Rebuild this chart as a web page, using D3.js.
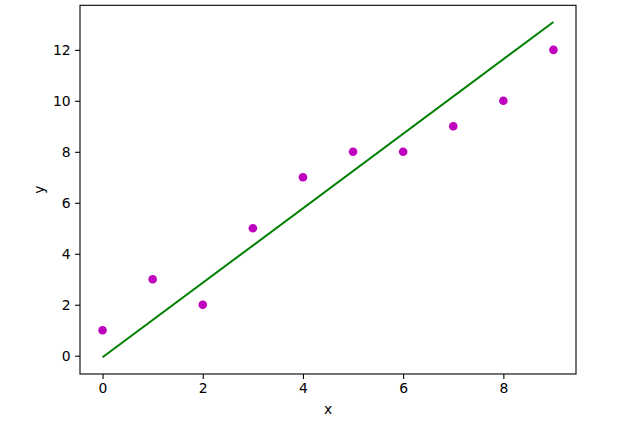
<!DOCTYPE html>
<html>
<head>
<meta charset="utf-8">
<script src="https://cdn.jsdelivr.net/npm/d3@7"></script>
<style>
  body { margin: 0; background: #fff; }
  text { font-family: "DejaVu Sans", sans-serif; }
</style>
</head>
<body>
<div id="chart"></div>
<script>
// scatter points
const xValues = [0, 1, 2, 3, 4, 5, 6, 7, 8, 9];
const yValues = [1, 3, 2, 5, 7, 8, 8, 9, 10, 12];
// fitted line end points
const lineX = [0, 9];
const lineY = [-0.06, 13.09];
const xTicks = [0, 2, 4, 6, 8];
const yTicks = [0, 2, 4, 6, 8, 10, 12];

const width = 640, height = 427;
const margin = {top: 5.3, right: 64, bottom: 53, left: 80};

const svg = d3.select("#chart").append("svg")
    .attr("width", width)
    .attr("height", height);

// matplotlib style 5% margins
const xExt = [d3.min(xValues.concat(lineX)), d3.max(xValues.concat(lineX))];
const yExt = [d3.min(yValues.concat(lineY)), d3.max(yValues.concat(lineY))];
const xPad = (xExt[1] - xExt[0]) * 0.05;
const yPad = (yExt[1] - yExt[0]) * 0.05;

const x = d3.scaleLinear()
    .domain([xExt[0] - xPad, xExt[1] + xPad])
    .range([margin.left, width - margin.right]);

const y = d3.scaleLinear()
    .domain([yExt[0] - yPad, yExt[1] + yPad])
    .range([height - margin.bottom, margin.top]);

// line
const lineData = lineX.map((d, i) => [d, lineY[i]]);
svg.append("path")
    .datum(lineData)
    .attr("fill", "none")
    .attr("stroke", "#008000")
    .attr("stroke-width", 2)
    .attr("d", d3.line().x(d => x(d[0])).y(d => y(d[1])));

// points
svg.selectAll(".dot")
    .data(xValues.map((d, i) => [d, yValues[i]]))
    .enter().append("circle")
    .attr("class", "dot")
    .attr("cx", d => x(d[0]))
    .attr("cy", d => y(d[1]))
    .attr("r", 4.3)
    .attr("fill", "#bf00bf");

// axes
const xAxis = svg.append("g")
    .attr("transform", "translate(0," + (height - margin.bottom) + ")")
    .call(d3.axisBottom(x).tickValues(xTicks).tickSize(4.9).tickPadding(4.5));

const yAxis = svg.append("g")
    .attr("transform", "translate(" + margin.left + ",0)")
    .call(d3.axisLeft(y).tickValues(yTicks).tickSize(4.9).tickPadding(4.5));

[xAxis, yAxis].forEach(g => {
    g.select(".domain").remove();
    g.selectAll("text").attr("font-size", "13.9px").attr("fill", "#000")
        .attr("font-family", "DejaVu Sans, sans-serif");
    g.selectAll("line").attr("stroke", "#000").attr("stroke-width", 1.1);
});

// frame
svg.append("rect")
    .attr("x", margin.left)
    .attr("y", margin.top)
    .attr("width", width - margin.right - margin.left)
    .attr("height", height - margin.bottom - margin.top)
    .attr("fill", "none")
    .attr("stroke", "#000")
    .attr("stroke-width", 1.1);

// labels
svg.append("text")
    .attr("x", (margin.left + width - margin.right) / 2)
    .attr("y", 414)
    .attr("text-anchor", "middle")
    .attr("font-size", "13.9px")
    .text("x");

svg.append("text")
    .attr("transform", "translate(44," + ((margin.top + height - margin.bottom) / 2) + ") rotate(-90)")
    .attr("text-anchor", "middle")
    .attr("font-size", "13.9px")
    .text("y");
</script>
</body>
</html>
